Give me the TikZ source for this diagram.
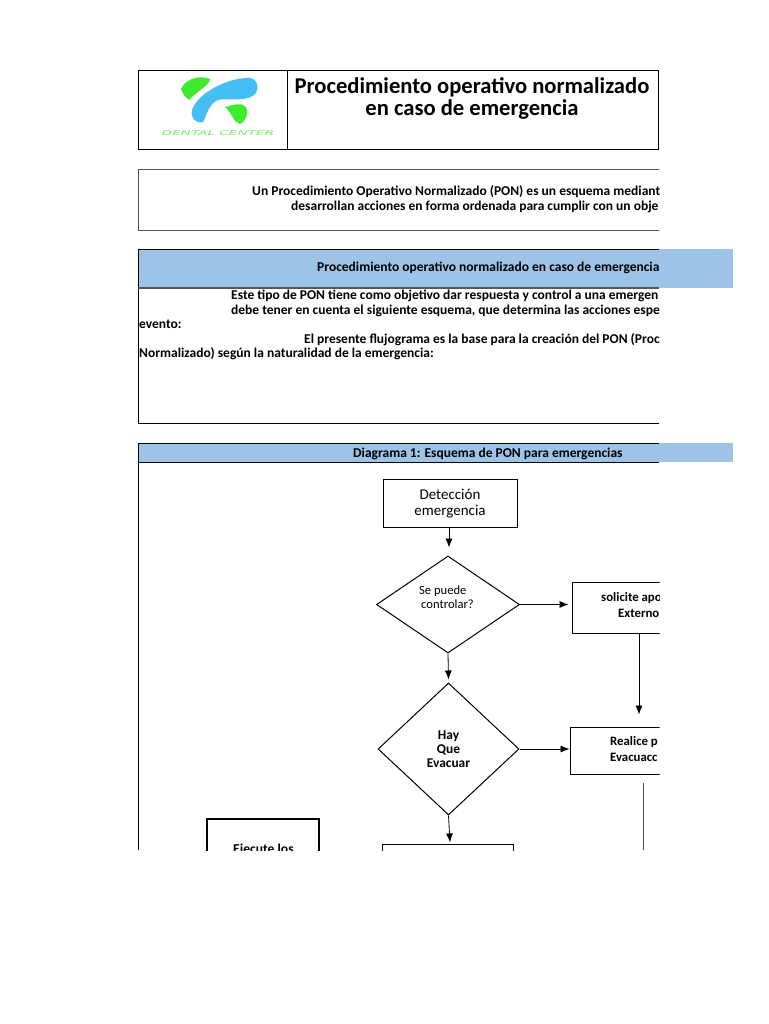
\documentclass[tikz,border=0pt]{standalone}
\usepackage{fontspec}
\setmainfont{Carlito}
\newfontfamily\logofont{DejaVu Sans}
\usetikzlibrary{arrows.meta}
\usetikzlibrary{shapes.geometric}
\definecolor{bandblue}{HTML}{9DC3E6}
\definecolor{logoblue}{HTML}{45BEF5}
\definecolor{logogreen}{HTML}{3CEB2D}
\definecolor{rulegray}{HTML}{555555}
\tikzset{
    celltext/.style={inner sep=0pt, anchor=west, font=\bfseries\fontsize{13.5}{15}\selectfont},
    flowtext/.style={inner sep=0pt, anchor=west, font=\bfseries\fontsize{12.8}{14}\selectfont},
    flowbox/.style={draw, line width=1pt, minimum width=#1, inner sep=0pt},
    decision/.style={draw, diamond, line width=1pt, inner sep=0pt, align=center},
    flowarrow/.style={draw, line width=0.8pt, -{Latex[length=9pt, width=7pt]}},
}
\newcommand{\cellline}[3]{%
    \node[celltext] (#1) at (#2) {#3};
}
\begin{document}
\begin{tikzpicture}[x=1pt, y=-1pt]
\useasboundingbox (0, 0) rectangle (768, 1024);

% blue bands
\fill[bandblue] (138, 249) rectangle (733, 288);
\fill[bandblue] (138, 443) rectangle (733, 462);

\begin{scope}
\clip (0, 0) rectangle (659.5, 850);

% cell borders
\draw[line width=0.9pt] (138, 70) rectangle (658.5, 149.5);
\draw[line width=0.9pt] (287, 70) -- (287, 149.5);
\draw[line width=0.9pt, rulegray] (659, 169) -- (138, 169) -- (138, 230) -- (659, 230);
\draw[line width=0.9pt] (659, 249) -- (138, 249) -- (138, 423) -- (659, 423);
\draw[line width=1.6pt, rulegray] (138, 288) -- (659, 288);
\draw[line width=0.9pt] (659, 443) -- (138, 443) -- (138, 850);
\draw[line width=0.9pt] (138, 462.5) -- (659, 462.5);

% logo
\fill[logogreen] (181, 89) .. controls (186, 78) and (200, 75) .. (210, 79)
    .. controls (209, 86) and (198, 90) .. (189, 100) .. controls (185, 97) and (182, 93) .. (181, 89);
\fill[logoblue] (192, 110) .. controls (198, 92) and (230, 77) .. (250, 78)
    .. controls (258, 79) and (260, 90) .. (254, 95) .. controls (246, 102) and (226, 98) .. (218, 100)
    .. controls (208, 104) and (206, 118) .. (203, 122) .. controls (196, 124) and (190, 118) .. (192, 110);
\fill[logogreen] (225, 107) .. controls (232, 105) and (242, 102) .. (246, 107)
    .. controls (249, 113) and (246, 122) .. (240, 124) .. controls (234, 123) and (232, 113) .. (225, 107);
\node[inner sep=0pt, text=logogreen!75, xscale=2.1, font=\logofont\itshape\fontsize{6.5}{7}\selectfont] (logotext) at (218, 133.5) {DENTAL CENTER};

% title
\node[inner sep=0pt, align=center, font=\bfseries\fontsize{22.6}{22.5}\selectfont] (title) at (472, 98.5) {Procedimiento operativo normalizado\\en caso de emergencia};

% text lines
\cellline{introa}{252, 191.5}{Un Procedimiento Operativo Normalizado (PON) es un esquema mediant}
\cellline{introb}{291, 206.5}{desarrollan acciones en forma ordenada para cumplir con un obje}
\cellline{banda}{317, 268}{Procedimiento operativo normalizado en caso de emergencia}
\cellline{parta}{231, 295.5}{Este tipo de PON tiene como objetivo dar respuesta y control a una emergen}
\cellline{partb}{231, 310.5}{debe tener en cuenta el siguiente esquema, que determina las acciones espe}
\cellline{partc}{139, 324.5}{evento:}
\cellline{partd}{304, 339.5}{El presente flujograma es la base para la creación del PON (Proc}
\cellline{parte}{139, 353.5}{Normalizado) según la naturalidad de la emergencia:}
\cellline{bandb}{353, 454}{Diagrama 1: Esquema de PON para emergencias}

% flow shapes
\node[flowbox=134pt, minimum height=48pt, align=center, font=\fontsize{15}{15.5}\selectfont] (detect) at (450, 503.5) {Detección\\emergencia};
\node[decision, minimum width=143pt, minimum height=97pt] (control) at (448, 604.5) {};
\node[inner sep=0pt, align=left, font=\fontsize{12.6}{14}\selectfont] (controltext) at (446.5, 597) {Se puede\\\hspace{2pt}controlar?};
\node[flowbox=134pt, minimum height=51pt] (apoyo) at (639, 607.5) {};
\node[flowtext] (apoyoa) at (601, 598.5) {solicite apo};
\node[flowtext] (apoyob) at (618, 613.5) {Externo};
\node[decision, minimum width=141pt, minimum height=132pt, font=\bfseries\fontsize{13.4}{14}\selectfont] (evacuar) at (448.5, 749) {Hay\\Que\\Evacuar};
\node[flowbox=146pt, minimum height=47pt] (plan) at (643, 750.5) {};
\node[flowtext] (plana) at (610, 742.5) {Realice p};
\node[flowtext] (planb) at (610, 757.5) {Evacuacc};
\node[flowbox=131pt, minimum height=60pt] (abajo) at (447.5, 874) {};
\node[flowbox=112pt, minimum height=80pt, line width=1.5pt] (ejecute) at (263, 859) {};
\node[flowtext, font=\bfseries\fontsize{13.6}{14}\selectfont] (ejecutea) at (233, 849.5) {Ejecute los};
\coordinate (planout) at (643, 783);
\coordinate (planend) at (643, 850);

% connectors
\draw[flowarrow] (detect.south -| 449, 0) -- ([yshift=8pt]control.north -| 449, 0);
\draw[flowarrow] (control.east) -- ([xshift=-3pt]apoyo.west |- control.east);
\draw[flowarrow] (apoyo.south -| 639, 0) -- ([yshift=12pt]plan.north -| 639, 0);
\draw[flowarrow] (control.south) -- ([yshift=3pt]evacuar.north);
\draw[flowarrow] (evacuar.east) -- (plan.west |- evacuar.east);
\draw[flowarrow] (evacuar.south) -- ([yshift=1pt]abajo.north -| 450, 0);
\draw[line width=1pt, rulegray] (planout) -- (planend);
\end{scope}
\end{tikzpicture}
\end{document}
